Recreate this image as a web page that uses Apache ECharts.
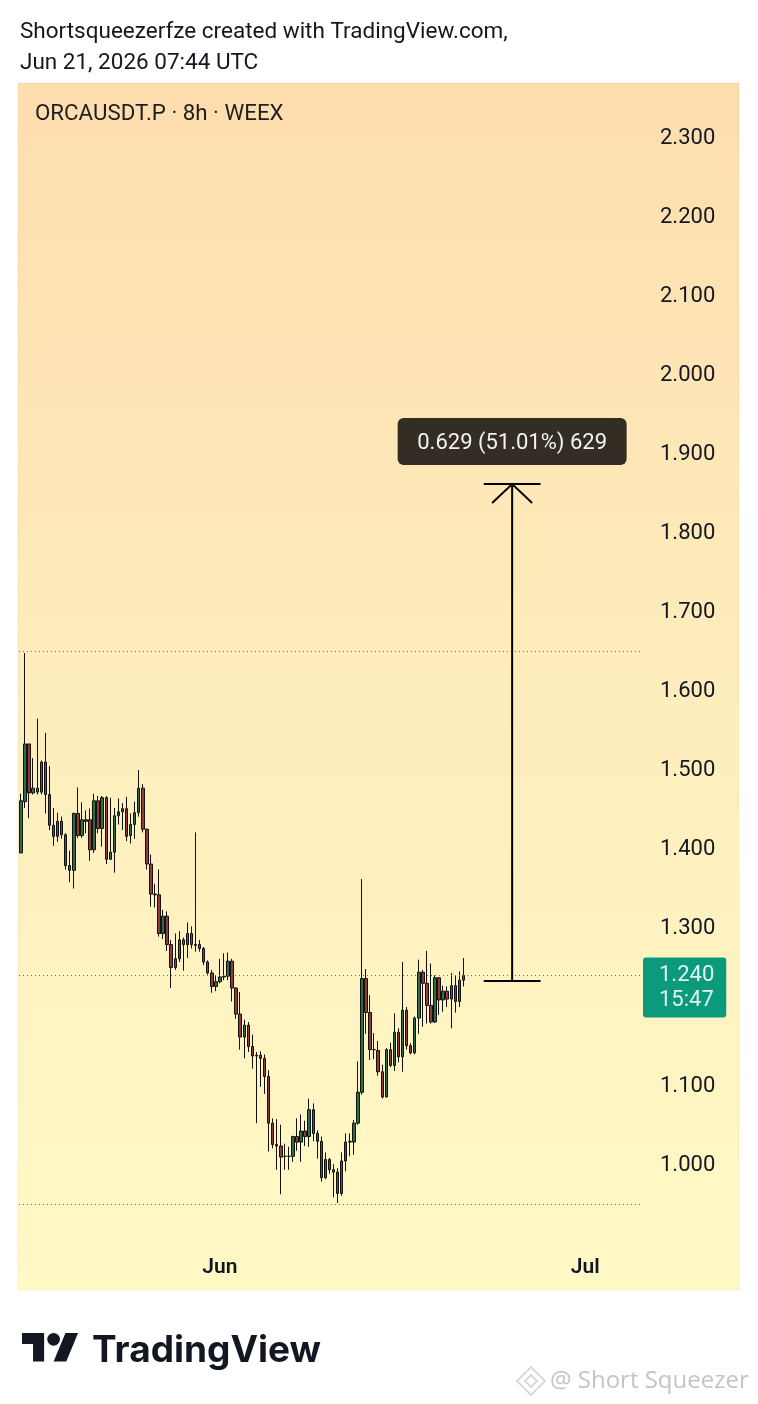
<!DOCTYPE html>
<html><head><meta charset="utf-8">
<script src="https://cdn.jsdelivr.net/npm/echarts@6/dist/echarts.min.js"></script>
<style>html,body{margin:0;padding:0;background:#fff}#c{width:758px;height:1404px}</style>
</head><body><div id="c"></div>
<script>
// ---- data ----
const firstCandleUTC = Date.UTC(2026, 4, 15, 16); // May 15 16:00, 8h candles
const slotCount = 153; // visible slots incl. empty future space
const monthNames = ['Jan','Feb','Mar','Apr','May','Jun','Jul','Aug','Sep','Oct','Nov','Dec'];
const yTickLabels = ['1.000','1.100','1.300','1.400','1.500','1.600','1.700','1.800','1.900','2.000','2.100','2.200','2.300'];
// [open, close, low, high]
const candles = [
[1.395,1.461,1.395,1.470],[1.460,1.533,1.452,1.648],[1.533,1.471,1.439,1.533],[1.471,1.477,1.469,1.515],
[1.477,1.472,1.469,1.565],[1.472,1.510,1.469,1.512],[1.510,1.469,1.445,1.547],[1.469,1.430,1.424,1.505],
[1.430,1.416,1.404,1.452],[1.416,1.435,1.409,1.446],[1.435,1.418,1.413,1.441],[1.418,1.379,1.374,1.420],
[1.379,1.373,1.358,1.398],[1.373,1.445,1.350,1.446],[1.445,1.417,1.414,1.478],[1.417,1.437,1.414,1.459],
[1.437,1.435,1.420,1.449],[1.437,1.399,1.385,1.451],[1.399,1.461,1.395,1.470],[1.461,1.426,1.420,1.467],
[1.426,1.465,1.403,1.467],[1.465,1.387,1.381,1.467],[1.387,1.396,1.386,1.465],[1.396,1.442,1.370,1.452],
[1.442,1.447,1.431,1.464],[1.447,1.451,1.424,1.458],[1.451,1.416,1.410,1.466],[1.417,1.431,1.407,1.445],
[1.431,1.446,1.413,1.460],[1.446,1.477,1.441,1.500],[1.477,1.425,1.421,1.482],[1.425,1.381,1.374,1.426],
[1.381,1.343,1.327,1.393],[1.343,1.342,1.326,1.356],[1.342,1.293,1.289,1.374],[1.293,1.315,1.286,1.323],
[1.315,1.279,1.271,1.321],[1.279,1.250,1.224,1.285],[1.250,1.261,1.247,1.293],[1.261,1.285,1.257,1.296],
[1.285,1.279,1.246,1.288],[1.279,1.293,1.262,1.307],[1.293,1.279,1.274,1.302],[1.279,1.278,1.270,1.421],
[1.279,1.274,1.270,1.285],[1.274,1.257,1.253,1.276],[1.257,1.243,1.241,1.259],[1.243,1.226,1.218,1.247],
[1.226,1.232,1.220,1.240],[1.232,1.238,1.230,1.261],[1.238,1.239,1.234,1.268],[1.239,1.258,1.234,1.269],
[1.258,1.224,1.207,1.261],[1.224,1.191,1.185,1.225],[1.191,1.162,1.146,1.219],[1.162,1.177,1.135,1.184],
[1.177,1.150,1.143,1.181],[1.150,1.138,1.122,1.165],[1.139,1.138,1.053,1.143],[1.139,1.135,1.099,1.144],
[1.135,1.112,1.090,1.140],[1.112,1.053,1.017,1.120],[1.053,1.026,1.021,1.059],[1.026,1.024,0.994,1.058],
[1.024,1.010,0.963,1.051],[1.011,1.011,0.994,1.027],[1.011,1.011,0.994,1.023],[1.011,1.036,1.004,1.037],
[1.036,1.029,1.018,1.059],[1.029,1.043,1.004,1.064],[1.043,1.036,1.024,1.056],[1.036,1.070,1.023,1.084],
[1.070,1.040,1.030,1.078],[1.040,1.030,1.008,1.044],[1.030,0.984,0.979,1.036],[0.984,1.007,0.982,1.016],
[1.007,0.994,0.989,1.009],[0.994,0.991,0.959,1.001],[0.991,0.964,0.952,0.996],[0.964,1.005,0.961,1.016],
[1.005,1.029,0.992,1.040],[1.029,1.030,1.011,1.040],[1.029,1.053,1.013,1.057],[1.053,1.092,1.051,1.131],
[1.092,1.236,1.089,1.362],[1.236,1.193,1.166,1.248],[1.193,1.146,1.133,1.215],[1.146,1.146,1.134,1.167],
[1.145,1.118,1.113,1.157],[1.118,1.086,1.084,1.127],[1.086,1.146,1.086,1.148],[1.146,1.126,1.124,1.155],
[1.126,1.168,1.119,1.192],[1.168,1.137,1.130,1.173],[1.137,1.196,1.118,1.257],[1.196,1.151,1.146,1.200],
[1.151,1.142,1.140,1.154],[1.142,1.186,1.140,1.188],[1.186,1.244,1.166,1.260],[1.244,1.230,1.175,1.247],
[1.230,1.202,1.179,1.271],[1.202,1.181,1.179,1.255],[1.181,1.237,1.180,1.240],[1.237,1.209,1.190,1.238],
[1.209,1.220,1.194,1.227],[1.220,1.210,1.200,1.226],[1.210,1.227,1.173,1.243],[1.227,1.207,1.193,1.240],
[1.207,1.234,1.200,1.245],[1.234,1.240,1.226,1.262]
];
const countdown = '15:47';
const measure = [113.5, 128, 1.233, 1.862]; // startSlot, endSlot, fromPrice, toPrice

// ---- build ----
const categories = [];
for (let i = 0; i < slotCount; i++) {
  const d = new Date(firstCandleUTC + i * 8 * 3600 * 1000);
  categories.push(d.toISOString());
}
const isMonthStart = (v) => { const d = new Date(v); return d.getUTCDate() === 1 && d.getUTCHours() === 0; };
const highs = candles.map(c => c[3]), lows = candles.map(c => c[2]);
const maxHigh = Math.max(...highs), minLow = Math.min(...lows);
const lastClose = candles[candles.length - 1][1];

const LOGO_S = 1.58;
const chart = echarts.init(document.getElementById('c'), null, {renderer: 'canvas'});
chart.setOption({
  animation: false,
  textStyle: {fontFamily: 'Roboto'},
  graphic: [
    {type: 'rect', z: -10, shape: {x: 18, y: 83, width: 721, height: 1207},
     style: {fill: {type: 'linear', x: 0, y: 0, x2: 0, y2: 1,
       colorStops: [{offset: 0, color: '#FEDDAE'}, {offset: 0.5, color: '#FEEDBC'}, {offset: 1, color: '#FFF9C6'}]},
       stroke: 'rgba(0,0,0,0.05)', lineWidth: 1}},
    {type: 'text', x: 20, y: 32, style: {text: 'Shortsqueezerfze created with TradingView.com,', font: '22.5px Roboto', fill: '#131722', verticalAlign: 'middle', textVerticalAlign: 'middle'}},
    {type: 'text', x: 20, y: 63, style: {text: 'Jun 21, 2026 07:44 UTC', font: '22.5px Roboto', fill: '#131722', verticalAlign: 'middle', textVerticalAlign: 'middle'}},
    {type: 'text', x: 35, y: 114, z: 10, style: {text: 'ORCAUSDT.P · 8h · WEEX', font: '22.3px Roboto', fill: '#1e1e1e', verticalAlign: 'middle', textVerticalAlign: 'middle'}},
    // TradingView logo
    {type: 'polygon', x: 22, y: 1326.7, scaleX: LOGO_S, scaleY: LOGO_S,
     shape: {points: [[14, 22], [7, 22], [7, 11], [0, 11], [0, 4], [14, 4]]}, style: {fill: '#131722'}},
    {type: 'polygon', x: 22, y: 1326.7, scaleX: LOGO_S, scaleY: LOGO_S,
     shape: {points: [[28, 22], [20, 22], [27.5, 4], [35.5, 4]]}, style: {fill: '#131722'}},
    {type: 'circle', x: 22, y: 1326.7, scaleX: LOGO_S, scaleY: LOGO_S, shape: {cx: 20, cy: 8, r: 4}, style: {fill: '#131722'}},
    {type: 'text', x: 92, y: 1351, style: {text: 'TradingView', font: 'bold 37px Inter', fill: '#131722', verticalAlign: 'middle', textVerticalAlign: 'middle'}},
    // watermark
    {type: 'polygon', shape: {points: [[531, 1367], [545, 1381], [531, 1395], [517, 1381]]}, style: {fill: 'none', stroke: '#d0d0d0', lineWidth: 1.5}},
    {type: 'polygon', shape: {points: [[531, 1375], [537, 1381], [531, 1387], [525, 1381]]}, style: {fill: 'none', stroke: '#d0d0d0', lineWidth: 1.5}},
    {type: 'text', x: 550, y: 1381, style: {text: '@ Short Squeezer', font: '24px "Open Sans"', fill: '#c4c4c4', verticalAlign: 'middle', textVerticalAlign: 'middle'}}
  ],
  grid: {left: 19, right: 118, top: 59, bottom: 160, containLabel: false},
  xAxis: {
    type: 'category', data: categories, boundaryGap: true,
    axisLine: {show: false}, axisTick: {show: false}, splitLine: {show: false},
    axisLabel: {
      interval: (idx, v) => isMonthStart(v),
      formatter: (v) => isMonthStart(v) ? monthNames[new Date(v).getUTCMonth()] : '',
      fontSize: 21, fontWeight: 600, color: '#131722', margin: 13
    }
  },
  yAxis: {
    type: 'value', position: 'right', min: 0.9, max: 2.4, interval: 0.1,
    axisLine: {show: false}, axisTick: {show: false}, splitLine: {show: false},
    axisLabel: {
      margin: 20, fontSize: 22, color: '#131722', padding: [4, 0, 0, 0],
      formatter: (v) => { const s = v.toFixed(3); return yTickLabels.includes(s) ? s : ''; }
    }
  },
  series: [
    {
      type: 'candlestick', data: candles, barWidth: 3,
      itemStyle: {color: '#2f6d47', color0: '#923c37', borderColor: '#111', borderColor0: '#111', borderWidth: 1},
      markLine: {
        silent: true, symbol: ['none', 'none'], animation: false,
        lineStyle: {color: '#6f6a60', width: 1, type: [1, 3]},
        label: {show: false},
        data: [
          {yAxis: maxHigh},
          {yAxis: minLow},
          {yAxis: lastClose, label: {
            show: true, position: 'end', distance: 3,
            formatter: lastClose.toFixed(3) + '\n' + countdown,
            backgroundColor: '#0b9a7c', color: '#dcf5ee', fontSize: 22, lineHeight: 25,
            padding: [6, 12, 4, 16], borderRadius: 3, align: 'left', verticalAlign: 'top', offset: [0, -18]
          }}
        ]
      }
    },
    {
      type: 'custom', z: 5, clip: false, silent: true,
      data: [measure],
      encode: {x: [0, 1], y: [2, 3]},
      renderItem: (params, api) => {
        const p1 = api.coord([api.value(0), api.value(2)]);
        const p2 = api.coord([api.value(1), api.value(3)]);
        const x1 = p1[0], x2 = p2[0], yF = p1[1], yT = p2[1], xm = (x1 + x2) / 2;
        const diff = api.value(3) - api.value(2);
        const txt = diff.toFixed(3) + ' (' + (diff / api.value(2) * 100).toFixed(2) + '%) ' + Math.round(diff * 1000);
        const ls = {stroke: '#000', lineWidth: 2};
        return {type: 'group', children: [
          {type: 'line', shape: {x1: x1, y1: yF, x2: x2, y2: yF}, style: ls},
          {type: 'line', shape: {x1: x1, y1: yT, x2: x2, y2: yT}, style: ls},
          {type: 'line', shape: {x1: xm, y1: yF, x2: xm, y2: yT}, style: ls},
          {type: 'polyline', shape: {points: [[xm - 20, yT + 19], [xm, yT], [xm + 20, yT + 19]]}, style: {stroke: '#000', lineWidth: 2, fill: 'none'}},
          {type: 'rect', shape: {x: xm - 114.5, y: yT - 66, width: 229, height: 47, r: 6}, style: {fill: 'rgba(40,35,28,0.95)'}},
          {type: 'text', x: xm, y: yT - 41, style: {text: txt, font: '22px Roboto', fill: '#f2f2f2', align: 'center', verticalAlign: 'middle', textAlign: 'center', textVerticalAlign: 'middle'}}
        ]};
      }
    }
  ]
});
</script></body></html>
